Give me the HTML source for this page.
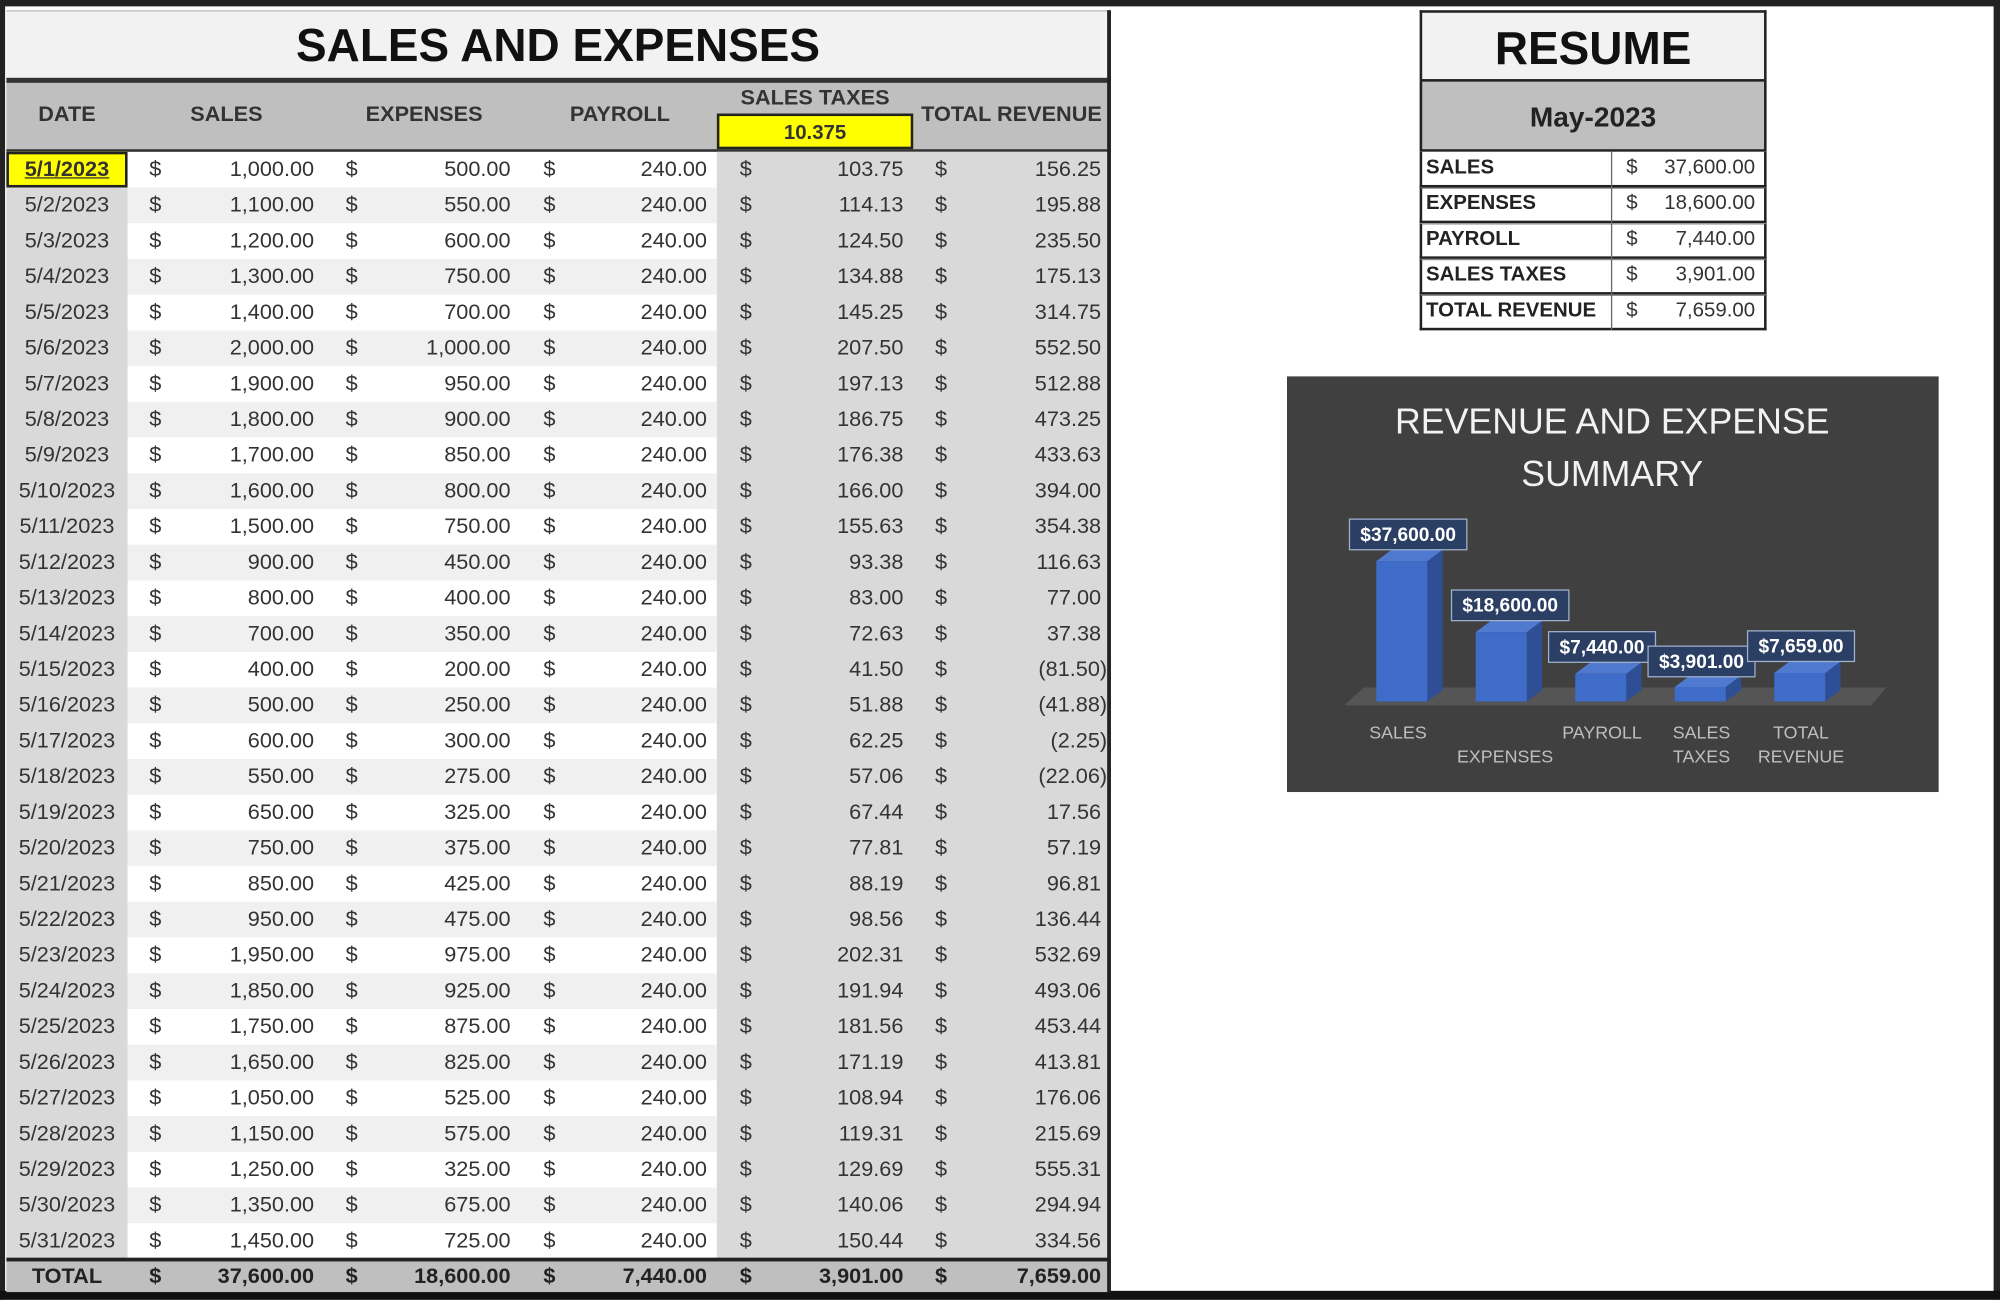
<!DOCTYPE html>
<html><head><meta charset="utf-8">
<style>
html,body{margin:0;padding:0;background:#000;}
#wrap{position:absolute;left:0;top:0;width:1568px;height:1019px;transform:scale(1.27551);transform-origin:0 0;background:#fff;overflow:hidden;font-family:"Liberation Sans Narrow","Liberation Sans",sans-serif;color:#333;}
.abs{position:absolute;box-sizing:border-box;}
.cell{position:absolute;height:28px;line-height:28px;font-size:17px;white-space:nowrap;}
.hdr{position:absolute;font-weight:bold;font-size:17px;color:#333;text-align:center;}
</style></head>
<body>
<div id="wrap">
  <div class="abs" style="left:0;top:0;width:1568px;height:5px;background:#222"></div>
  <div class="abs" style="left:0;top:0;width:4px;height:1019px;background:#222"></div>
  <div class="abs" style="left:1563px;top:0;width:5px;height:1019px;background:#222"></div>
  <div class="abs" style="left:0;top:1012px;width:1568px;height:7px;background:#111"></div>

  <div class="abs" style="left:5px;top:8px;width:865px;height:53px;background:#f2f2f2;border-top:1px solid #bbb;font-weight:bold;font-size:36px;color:#111;text-align:center;line-height:54px;font-family:'Liberation Sans',sans-serif">SALES AND EXPENSES</div>
  <div class="abs" style="left:5px;top:61px;width:865px;height:4px;background:#333"></div>
  <div class="abs" style="left:5px;top:65px;width:865px;height:54px;background:#bfbfbf"></div>
  <div class="hdr" style="left:5px;top:80px;width:95px">DATE</div>
  <div class="hdr" style="left:100px;top:80px;width:155px">SALES</div>
  <div class="hdr" style="left:255px;top:80px;width:155px">EXPENSES</div>
  <div class="hdr" style="left:410px;top:80px;width:152px">PAYROLL</div>
  <div class="hdr" style="left:562px;top:67px;width:154px">SALES TAXES</div>
  <div class="abs" style="left:562px;top:89px;width:154px;height:28px;background:#ffff00;border:2px solid #222;font-weight:bold;font-size:16px;text-align:center;line-height:28px;color:#333">10.375</div>
  <div class="hdr" style="left:716px;top:80px;width:154px">TOTAL REVENUE</div>
  <div class="abs" style="left:5px;top:117px;width:865px;height:2px;background:#333"></div>
  <div id="rows"></div>
  <div class="abs" style="left:868px;top:8px;width:3px;height:1005px;background:#222"></div>

  <div class="abs" style="left:1113px;top:8px;width:272px;height:55px;background:#f2f2f2;border:2px solid #222;border-bottom:none;font-weight:bold;font-size:36px;color:#111;text-align:center;line-height:56px;font-family:'Liberation Sans',sans-serif">RESUME</div>
  <div class="abs" style="left:1113px;top:62px;width:272px;height:57px;background:#bfbfbf;border:2px solid #222;font-weight:bold;font-size:22px;color:#222;text-align:center;line-height:56px">May-2023</div>
  <div id="resume"></div>

  <svg id="chart" class="abs" style="left:1009px;top:295px" width="511" height="326"></svg>
</div>
<script>
const dates=[];for(let d=1;d<=31;d++)dates.push('5/'+d+'/2023');
const salesVals=[1000,1100,1200,1300,1400,2000,1900,1800,1700,1600,1500,900,800,700,400,500,600,550,650,750,850,950,1950,1850,1750,1650,1050,1150,1250,1350,1450];
const expenseVals=[500,550,600,750,700,1000,950,900,850,800,750,450,400,350,200,250,300,275,325,375,425,475,975,925,875,825,525,575,325,675,725];
const payrollVal=240;
const taxRate=10.375;
const categories=['SALES','EXPENSES','PAYROLL','SALES TAXES','TOTAL REVENUE'];
const summaryValues=[37600,18600,7440,3901,7659];

function rnd(v){return Math.sign(v)*Math.round(Math.abs(v)*100+1e-6)/100;}
function fmt(v){v=rnd(v);const a=Math.abs(v).toLocaleString('en-US',{minimumFractionDigits:2,maximumFractionDigits:2});return v<0?'('+a+')':a+'\u00a0';}
const rowsEl=document.getElementById('rows');
const cols=[{d:117,r:245},{d:271,r:399},{d:426,r:553},{d:580,r:707},{d:733,r:862}];
function addDiv(parent,style,text){const e=document.createElement('div');e.className='cell';e.style.cssText=style;if(text!==undefined)e.textContent=text;parent.appendChild(e);return e;}
let bg=addDiv(rowsEl,'left:5px;top:119px;width:95px;height:869px;background:#d9d9d9');


bg=addDiv(rowsEl,'left:562px;top:119px;width:306px;height:869px;background:#d9d9d9');


const tot=[0,0,0,0,0];
for(let i=0;i<31;i++){
  const y=119+i*28;
  const s=salesVals[i],e=expenseVals[i],p=payrollVal,t=s*taxRate/100,r=s-e-p-t;
  const vals=[s,e,p,t,r];
  if(i%2===1){const band=addDiv(rowsEl,'left:100px;top:'+y+'px;width:462px;background:#f0f0f0');
    
    }
  const dc=addDiv(rowsEl,'left:5px;top:'+y+'px;width:95px;text-align:center;'+(i===0?'background:#ffff00;border:2px solid #222;box-sizing:border-box;line-height:24px;font-weight:bold;text-decoration:underline;':''),dates[i]);
  
  
  vals.forEach((v,k)=>{tot[k]+=v;
    const ds=addDiv(rowsEl,'left:'+cols[k].d+'px;top:'+y+'px','$');
    
    
    const vc=addDiv(rowsEl,'left:'+(cols[k].r-140)+'px;top:'+y+'px;width:146px;text-align:right',fmt(v));
    
    
  });
}
let tl=addDiv(rowsEl,'left:5px;top:986px;width:865px;height:3px;background:#222');


let tr=addDiv(rowsEl,'left:5px;top:989px;width:865px;height:24px;background:#bfbfbf');


let tlab=addDiv(rowsEl,'left:5px;top:987px;width:95px;text-align:center;font-weight:bold;color:#222','TOTAL');


tot.forEach((v,k)=>{
  const ds=addDiv(rowsEl,'left:'+cols[k].d+'px;top:987px;font-weight:bold;color:#222','$');
  
  
  const vc=addDiv(rowsEl,'left:'+(cols[k].r-140)+'px;top:987px;width:146px;text-align:right;font-weight:bold;color:#222',fmt(v));
  
  
});
const resEl=document.getElementById('resume');
categories.forEach((c,i)=>{
  const y=119+i*28;
  const box=addDiv(resEl,'left:1113px;top:'+y+'px;width:272px;height:28px;border:2px solid #222;border-top:'+(i?'1px solid #888':'none')+';box-sizing:border-box;background:#fff');
  
  
  const lab=addDiv(resEl,'left:1118px;top:'+(y-1)+'px;font-weight:bold;color:#222;font-size:16px',c);
  
  
  const sep=addDiv(resEl,'left:1263px;top:'+y+'px;width:1px;background:#666');
  
  
  const ds=addDiv(resEl,'left:1275px;top:'+(y-1)+'px;font-size:16px','$');
  
  
  const v=addDiv(resEl,'left:1240px;top:'+(y-1)+'px;width:136px;text-align:right;font-size:16px',fmt(summaryValues[i]).trim());
  
  
});
const NS='http://www.w3.org/2000/svg';
const svg=document.getElementById('chart');
function el(tag,attrs,parent){const e=document.createElementNS(NS,tag);for(const k in attrs)e.setAttribute(k,attrs[k]);(parent||svg).appendChild(e);return e;}
let r0=el('rect',{x:0,y:0,width:511,height:326,fill:'#404040'});


['REVENUE AND EXPENSE','SUMMARY'].forEach((t,i)=>{
  const tx=el('text',{x:255,y:45+i*41,'text-anchor':'middle',fill:'#f2f2f2','font-size':28,'font-family':'Liberation Sans, sans-serif'});
  tx.textContent=t;
  
  
});
const base=255, hScale=110/37600;
const xCenter=i=>91+i*78;
function yPos(v){return base-v*hScale;}
let floor=el('polygon',{points:'45,258 458,258 470,244 60,244',fill:'#555'});


summaryValues.forEach((v,i)=>{
  const x=xCenter(i)-21,w=40,top=yPos(v);
  const side=el('polygon',{points:`${x+w},${top} ${x+w+12},${top-9} ${x+w+12},${base-9} ${x+w},${base}`,fill:'#2e4f96'});
  
  
  const topf=el('polygon',{points:`${x},${top} ${x+12},${top-9} ${x+w+12},${top-9} ${x+w},${top}`,fill:'#4f7ad0'});
  
  
  const b=el('rect',{x:x,y:top,width:w,height:base-top,fill:'#3e6cc8'});
  
  
  const lab='$'+v.toLocaleString('en-US',{minimumFractionDigits:2});
  const lw=lab.length*8.2+10;
  const ry=i===3?top-32:top-33;
  const off=(i===0?4:(i===1?6:0));
  const box=el('rect',{x:xCenter(i)-lw/2+off,y:ry,width:lw,height:24,fill:'#2a3f63',stroke:'#9fb0cc','stroke-width':1});
  
  
  const t=el('text',{x:xCenter(i)+off,y:ry+17,'text-anchor':'middle',fill:'#fff','font-size':15,'font-weight':'bold','font-family':'Liberation Sans Narrow, Liberation Sans, sans-serif'});
  t.textContent=lab;
  
  
});
const catLines=[['SALES'],['','EXPENSES'],['PAYROLL'],['SALES','TAXES'],['TOTAL','REVENUE']];
catLines.forEach((ls,i)=>{ls.forEach((l,j)=>{if(!l)return;
  const t=el('text',{x:xCenter(i)-(i===0?4:(i===1?-2:0)),y:284+j*19,'text-anchor':'middle',fill:'#bfbfbf','font-size':14,'font-family':'Liberation Sans Narrow, Liberation Sans, sans-serif'});
  t.textContent=l;
  
  
});});
</script>
</body></html>
